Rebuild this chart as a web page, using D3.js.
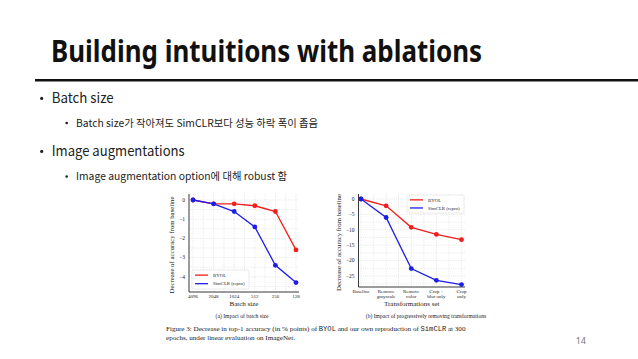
<!DOCTYPE html>
<html>
<head>
<meta charset="utf-8">
<script src="https://cdn.jsdelivr.net/npm/d3@7"></script>
<style>
  body { margin: 0; background: #fff; }
  svg { display: block; }
</style>
</head>
<body>
<div id="slide"></div>
<script>
// slide size
var svgWidth = 638;
var svgHeight = 359;

// data
var batchSizes = ["4096", "2048", "1024", "512", "256", "128"];
var byolBatch = [0, -0.2, -0.2, -0.3, -0.6, -2.6];
var simclrBatch = [0, -0.2, -0.6, -1.4, -3.4, -4.3];
var batchTicks = [0, -1, -2, -3, -4];

var transformSets = [["Baseline"], ["Remove", "grayscale"], ["Remove", "color"], ["Crop +", "blur only"], ["Crop", "only"]];
var byolTrans = [0, -2.2, -9.2, -11.5, -13.2];
var simclrTrans = [0, -6, -22.6, -26.4, -27.8];
var transTicks = [0, -5, -10, -15, -20, -25];

var seriesNames = ["BYOL", "SimCLR (repro)"];
var seriesColors = ["#f21d1d", "#1d1de8"];

var svg = d3.select("#slide")
  .append("svg")
  .attr("width", svgWidth)
  .attr("height", svgHeight);

// ---- slide text ----
svg.append("text")
  .attr("x", 51)
  .attr("y", 62)
  .attr("textLength", 431)
  .attr("lengthAdjust", "spacingAndGlyphs")
  .style("font-family", "'Noto Sans', 'Open Sans', sans-serif")
  .style("font-weight", "700")
  .style("font-size", "31px")
  .attr("fill", "#111")
  .text("Building intuitions with ablations");

svg.append("rect")
  .attr("x", 35)
  .attr("y", 79)
  .attr("width", svgWidth - 35)
  .attr("height", 2.5)
  .attr("fill", "#111");

var bullets = [
  { text: "Batch size", level: 0, y: 103, w: 62 },
  { text: "Batch size가 작아져도 SimCLR보다 성능 하락 폭이 좁음", level: 1, y: 126.5, w: 242 },
  { text: "Image augmentations", level: 0, y: 156, w: 133 },
  { text: "Image augmentation option에 대해 robust 함", level: 1, y: 180, w: 211 }
];

bullets.forEach(function (b) {
  var bx = b.level === 0 ? 41.7 : 66.7;
  var tx = b.level === 0 ? 51.7 : 76;
  var fs = b.level === 0 ? 14 : 10.5;
  svg.append("circle")
    .attr("cx", bx)
    .attr("cy", b.y - fs * 0.33)
    .attr("r", b.level === 0 ? 1.6 : 1.3)
    .attr("fill", "#222");
  svg.append("text")
    .attr("x", tx)
    .attr("y", b.y)
    .attr("textLength", b.w)
    .attr("lengthAdjust", "spacingAndGlyphs")
    .style("font-family", "'Noto Sans CJK KR', 'Noto Sans', sans-serif")
    .style("font-size", fs + "px")
    .attr("fill", "#222")
    .text(b.text);
});

svg.append("text")
  .attr("x", 586)
  .attr("y", 344)
  .attr("text-anchor", "end")
  .style("font-family", "'Noto Sans', sans-serif")
  .style("font-size", "9px")
  .attr("fill", "#777")
  .text("14");

// ---- a matplotlib-like panel ----
function drawPanel(cfg) {
  var g = svg.append("g");
  var serif = "'Liberation Serif', 'DejaVu Serif', serif";

  var xScale = d3.scalePoint()
    .domain(d3.range(cfg.categories.length))
    .range([cfg.x0, cfg.x1]);

  var yScale = d3.scaleLinear()
    .domain([cfg.ticks[0], cfg.ticks[cfg.ticks.length - 1]])
    .range([cfg.y0, cfg.y1]);

  var top = cfg.top, bottom = cfg.bottom, left = cfg.left, right = cfg.right;

  // dotted grid, major + minor
  var step = cfg.ticks[0] - cfg.ticks[1];
  var yGrid = d3.range(cfg.ticks[0] + step, cfg.ticks[cfg.ticks.length - 1] - step, -step / 2)
    .filter(v => yScale(v) > top && yScale(v) < bottom);
  g.selectAll(".ygrid")
    .data(yGrid)
    .enter()
    .append("line")
    .attr("x1", left)
    .attr("x2", right)
    .attr("y1", d => yScale(d))
    .attr("y2", d => yScale(d))
    .attr("stroke", "#d6d6d6")
    .attr("stroke-width", 0.6)
    .attr("stroke-dasharray", "1,1.2");

  var half = xScale.step() / 2;
  var xGrid = [];
  cfg.categories.forEach(function (c, i) {
    xGrid.push(xScale(i));
    if (xScale(i) + half < right) xGrid.push(xScale(i) + half);
  });
  g.selectAll(".xgrid")
    .data(xGrid)
    .enter()
    .append("line")
    .attr("x1", d => d)
    .attr("x2", d => d)
    .attr("y1", top)
    .attr("y2", bottom)
    .attr("stroke", "#d6d6d6")
    .attr("stroke-width", 0.6)
    .attr("stroke-dasharray", "1,1.2");

  // spines
  g.append("line")
    .attr("x1", left).attr("x2", left)
    .attr("y1", top).attr("y2", bottom)
    .attr("stroke", "#222").attr("stroke-width", 0.9);
  g.append("line")
    .attr("x1", left).attr("x2", right)
    .attr("y1", bottom).attr("y2", bottom)
    .attr("stroke", "#222").attr("stroke-width", 0.9);

  // y ticks
  g.selectAll(".ytick")
    .data(cfg.ticks)
    .enter()
    .append("text")
    .attr("x", left - 4)
    .attr("y", d => yScale(d) + 1.8)
    .attr("text-anchor", "end")
    .style("font-family", serif)
    .style("font-size", "5.5px")
    .attr("fill", "#222")
    .text(d => d === 0 ? "0" : "\u2212" + Math.abs(d));

  // x ticks
  cfg.categories.forEach(function (c, i) {
    var lines = Array.isArray(c) ? c : [c];
    lines.forEach(function (ln, j) {
      g.append("text")
        .attr("x", xScale(i))
        .attr("y", bottom + cfg.tickDy + j * 5)
        .attr("text-anchor", "middle")
        .style("font-family", serif)
        .style("font-size", "5px")
        .attr("fill", "#222")
        .text(ln);
    });
  });

  // axis titles
  g.append("text")
    .attr("x", (left + right) / 2)
    .attr("y", cfg.xTitleY)
    .attr("text-anchor", "middle")
    .style("font-family", serif)
    .style("font-size", "7px")
    .attr("fill", "#222")
    .text(cfg.xTitle);

  g.append("text")
    .attr("transform", `translate(${cfg.yTitleX}, ${(top + bottom) / 2 + 2}) rotate(-90)`)
    .attr("text-anchor", "middle")
    .style("font-family", serif)
    .style("font-size", "6.8px")
    .attr("fill", "#222")
    .text("Decrease of accuracy from baseline");

  // series lines and markers
  var line = d3.line()
    .x((d, i) => xScale(i))
    .y(d => yScale(d));

  cfg.series.forEach(function (s, k) {
    g.append("path")
      .datum(s)
      .attr("d", line)
      .attr("fill", "none")
      .attr("stroke", seriesColors[k])
      .attr("stroke-width", 1.3);
    g.selectAll(".pt" + k)
      .data(s)
      .enter()
      .append("circle")
      .attr("cx", (d, i) => xScale(i))
      .attr("cy", d => yScale(d))
      .attr("r", 2.4)
      .attr("fill", seriesColors[k]);
  });

  // legend
  var lg = cfg.legend;
  g.append("rect")
    .attr("x", lg.x)
    .attr("y", lg.y)
    .attr("width", lg.w)
    .attr("height", lg.h)
    .attr("rx", 1.5)
    .attr("fill", "#fff")
    .attr("stroke", "#ddd")
    .attr("stroke-width", 0.6);
  seriesNames.forEach(function (name, k) {
    var ly = lg.y + lg.h * (k === 0 ? 0.27 : 0.72);
    g.append("line")
      .attr("x1", lg.x + 3).attr("x2", lg.x + 16)
      .attr("y1", ly).attr("y2", ly)
      .attr("stroke", seriesColors[k])
      .attr("stroke-width", 1.3);
    g.append("text")
      .attr("x", lg.x + 21)
      .attr("y", ly + 1.7)
      .style("font-family", serif)
      .style("font-size", "4.8px")
      .attr("fill", "#222")
      .text(name);
  });

  // sub caption
  g.append("text")
    .attr("x", cfg.captionX)
    .attr("y", 318)
    .attr("text-anchor", "middle")
    .style("font-family", serif)
    .style("font-size", "5.6px")
    .attr("fill", "#222")
    .text(cfg.caption);
}

drawPanel({
  categories: batchSizes,
  series: [byolBatch, simclrBatch],
  ticks: batchTicks,
  x0: 193, x1: 296,
  y0: 200, y1: 276.8,
  top: 194, bottom: 292, left: 189, right: 299,
  tickDy: 5.5,
  xTitle: "Batch size",
  xTitleY: 305.5,
  yTitleX: 174,
  legend: { x: 192, y: 270, w: 57, h: 19 },
  caption: "(a) Impact of batch size",
  captionX: 242
});

drawPanel({
  categories: transformSets,
  series: [byolTrans, simclrTrans],
  ticks: transTicks,
  x0: 361, x1: 461.5,
  y0: 199, y1: 276,
  top: 194, bottom: 287, left: 358.5, right: 465,
  tickDy: 6.3,
  xTitle: "Transformations set",
  xTitleY: 306,
  yTitleX: 341,
  legend: { x: 407, y: 195, w: 57, h: 18 },
  caption: "(b) Impact of progressively removing transformations",
  captionX: 426
});

// figure caption
var capLines = [
  ["Figure 3: Decrease in top-1 accuracy (in % points) of ", "BYOL", " and our own reproduction of ", "SimCLR", " at 300"],
  ["epochs, under linear evaluation on ImageNet."]
];
capLines.forEach(function (parts, i) {
  var t = svg.append("text")
    .attr("x", 166)
    .attr("y", 331 + i * 8.5)
    .style("font-size", "7.1px")
    .attr("fill", "#222");
  parts.forEach(function (p, j) {
    t.append("tspan")
      .style("font-family", j % 2 === 1 ? "'Liberation Mono', monospace" : "'Liberation Serif', serif")
      .text(p);
  });
});
</script>
</body>
</html>
